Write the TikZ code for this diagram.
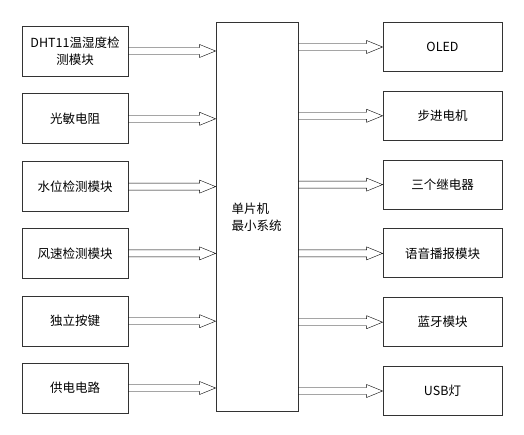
\documentclass[tikz,border=0pt]{standalone}
\usepackage{fontspec}
\setmainfont{Noto Sans CJK SC}
\usetikzlibrary{positioning, calc}

\tikzset{
  inbox/.style={draw=black!80, line width=0.8pt, minimum width=106pt, minimum height=50pt, align=center, inner sep=0pt},
  outbox/.style={draw=black!80, line width=0.8pt, minimum width=119pt, minimum height=49pt, align=center, inner sep=0pt},
  fatarrow/.style={draw=black!85, line width=0.8pt, to path={
    let \p1=(\tikztostart), \p2=(\tikztotarget) in
    (\x1,\y1+3.5pt) -- (\x2-16pt,\y1+3.5pt) -- (\x2-16pt,\y1+6.5pt) -- (\x2,\y1)
    -- (\x2-16pt,\y1-6.5pt) -- (\x2-16pt,\y1-3.5pt) -- (\x1,\y1-3.5pt)}}
}

\begin{document}
\begin{tikzpicture}[x=1pt, y=-1pt, font=\fontsize{12.5}{17}\selectfont]
            \useasboundingbox (0,0) rectangle (524,435);

            % microcontroller
            \node[draw=black!80, line width=0.8pt, minimum width=82pt, minimum height=389pt] (mcu) at (257,216.5) {};
            \node[align=left, anchor=west] (mcutext) at (228,217) {单片机\\最小系统};

            % inputs
            \node[inbox] (dht) at (75,51) {DHT11温湿度检\\测模块};
            \node[inbox, below=17pt of dht] (light) {光敏电阻};
            \node[inbox, below=17pt of light] (water) {水位检测模块};
            \node[inbox, below=16pt of water] (wind) {风速检测模块};
            \node[inbox, below=17pt of wind] (key) {独立按键};
            \node[inbox, below=16pt of key] (power) {供电电路};

            % outputs
            \node[outbox] (oled) at (442.5,47) {OLED};
            \node[outbox, below=19pt of oled] (motor) {步进电机};
            \node[outbox, below=19pt of motor] (relay) {三个继电器};
            \node[outbox, below=19pt of relay] (voice) {语音播报模块};
            \node[outbox, below=19pt of voice] (bt) {蓝牙模块};
            \node[outbox, below=19pt of bt] (usb) {USB灯};

            \draw (dht.east) to[fatarrow] (dht.east -| mcu.west);
            \draw (light.east) to[fatarrow] (light.east -| mcu.west);
            \draw (water.east) to[fatarrow] (water.east -| mcu.west);
            \draw (wind.east) to[fatarrow] (wind.east -| mcu.west);
            \draw (key.east) to[fatarrow] (key.east -| mcu.west);
            \draw (power.east) to[fatarrow] (power.east -| mcu.west);

            \draw (oled.west -| mcu.east) to[fatarrow] (oled.west);
            \draw (motor.west -| mcu.east) to[fatarrow] (motor.west);
            \draw (relay.west -| mcu.east) to[fatarrow] (relay.west);
            \draw (voice.west -| mcu.east) to[fatarrow] (voice.west);
            \draw (bt.west -| mcu.east) to[fatarrow] (bt.west);
            \draw (usb.west -| mcu.east) to[fatarrow] (usb.west);
        \end{tikzpicture}
\end{document}
